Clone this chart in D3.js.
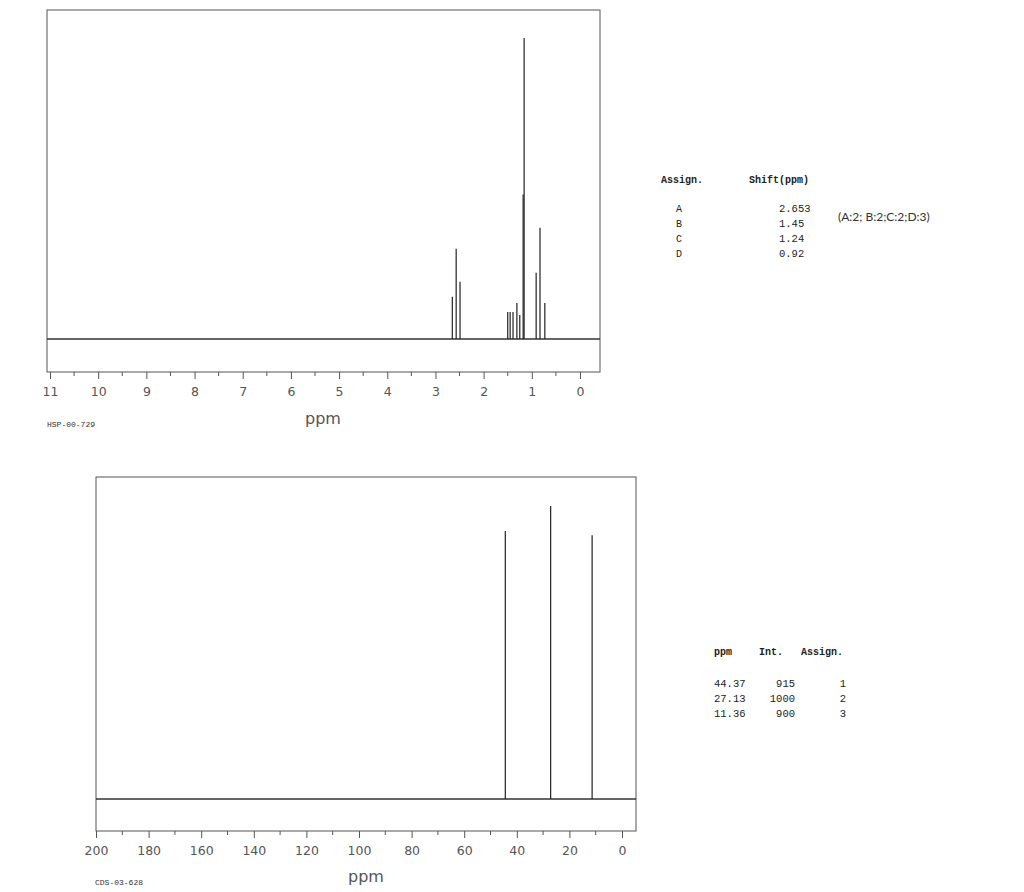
<!DOCTYPE html>
<html><head><meta charset="utf-8">
<script src="https://cdn.jsdelivr.net/npm/d3@7"></script>
<style>body{margin:0;background:#fff}</style></head>
<body><svg id="c" width="1024" height="892"></svg>
<script>
// 1H peaks (ppm, relative intensity 0-100)
const hPpm = [2.65,2.57,2.49, 1.50,1.45,1.39,1.31,1.25, 1.18,1.16, 0.91,0.83,0.73];
const hInt = [14,30,19, 9,9,9,12,8, 48,100, 22,37,12];
const hTicks = [11,10,9,8,7,6,5,4,3,2,1,0];
const hAssign = ["A","B","C","D"];
const hShift = ["2.653","1.45","1.24","0.92"];
// 13C peaks
const cPpm = [44.37,27.13,11.36];
const cInt = [915,1000,900];
const cAssign = ["1","2","3"];
const cTicks = [200,180,160,140,120,100,80,60,40,20,0];

const svg = d3.select("#c");
const mono = "'Liberation Mono','DejaVu Sans Mono',monospace";

function panel(o){
  const g = svg.append("g");
  g.append("rect").attr("x",o.l).attr("y",o.t).attr("width",o.r-o.l).attr("height",o.b-o.t)
    .attr("fill","none").attr("stroke","#555").attr("stroke-width",1);
  const x = d3.scaleLinear().domain(o.dom).range(o.rng);
  const y = d3.scaleLinear().domain([0,o.max]).range([o.base,o.top]);
  g.append("line").attr("x1",o.l).attr("x2",o.r).attr("y1",o.base).attr("y2",o.base)
    .attr("stroke","#333").attr("stroke-width",o.bw);
  o.ppm.forEach((p,i)=>{
    g.append("line").attr("x1",x(p)).attr("x2",x(p)).attr("y1",o.base).attr("y2",y(o.int[i]))
      .attr("stroke","#222").attr("stroke-width",1.2);
  });
  const ax = g.append("g").attr("transform",`translate(0,${o.b})`)
    .call(d3.axisBottom(x).tickValues(o.ticks).tickSize(7).tickPadding(8).tickFormat(d3.format("d")));
  ax.select(".domain").remove();
  ax.selectAll("line").attr("stroke","#555");
  ax.selectAll("text").attr("font-family","'DejaVu Sans', sans-serif").attr("font-size",12.5).attr("fill","#555");
  const mt = [];
  for(let i=0;i<o.ticks.length-1;i++) mt.push((o.ticks[i]+o.ticks[i+1])/2);
  g.selectAll(null).data(mt).enter().append("line").attr("x1",d=>x(d)).attr("x2",d=>x(d))
    .attr("y1",o.b).attr("y2",o.b+4).attr("stroke","#555");
  g.append("text").attr("x",o.px).attr("y",o.py).attr("text-anchor","middle")
    .attr("font-family","'DejaVu Sans', sans-serif").attr("font-size",16).attr("fill","#555").text("ppm");
  g.append("text").attr("x",o.cx).attr("y",o.py+3).attr("font-family",mono).attr("font-size",8)
    .attr("fill","#333").text(o.code);
}

panel({l:47,t:10,r:600,b:372,dom:[11,0],rng:[50,580],max:100,base:339,top:38,bw:1.3,
  ppm:hPpm,int:hInt,ticks:hTicks,px:323,py:424,cx:47,code:"HSP-00-729"});
panel({l:96,t:477,r:636,b:831,dom:[200,0],rng:[96,622],max:1000,base:799,top:506,bw:1.3,
  ppm:cPpm,int:cInt,ticks:cTicks,px:366,py:882,cx:95,code:"CDS-03-628"});

const t = svg.append("g").attr("font-family",mono).attr("fill","#222");
t.append("text").attr("x",661).attr("y",183).attr("font-size",10).attr("font-weight","bold").text("Assign.");
t.append("text").attr("x",749).attr("y",183).attr("font-size",10).attr("font-weight","bold").text("Shift(ppm)");
hAssign.forEach((a,i)=>{
  t.append("text").attr("x",676).attr("y",212+i*15).attr("font-size",10).text(a);
  t.append("text").attr("x",779).attr("y",212+i*15).attr("font-size",10.5).text(hShift[i]);
});
svg.append("text").attr("x",838).attr("y",221).attr("font-family","Lato, sans-serif")
  .attr("font-size",12).attr("fill","#333").text("(A:2; B:2;C:2;D:3)");

t.append("text").attr("x",714).attr("y",655).attr("font-size",10).attr("font-weight","bold").text("ppm");
t.append("text").attr("x",759).attr("y",655).attr("font-size",10).attr("font-weight","bold").text("Int.");
t.append("text").attr("x",801).attr("y",655).attr("font-size",10).attr("font-weight","bold").text("Assign.");
cPpm.forEach((p,i)=>{
  const y = 687+i*15;
  t.append("text").attr("x",714).attr("y",y).attr("font-size",10.5).text(p.toFixed(2));
  t.append("text").attr("x",795).attr("y",y).attr("text-anchor","end").attr("font-size",10.5).text(cInt[i]);
  t.append("text").attr("x",843).attr("y",y).attr("text-anchor","middle").attr("font-size",10.5).text(cAssign[i]);
});
</script></body></html>
